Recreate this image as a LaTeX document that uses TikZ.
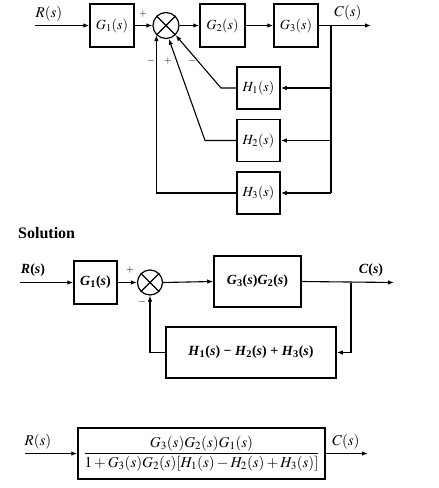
\documentclass[tikz,border=0pt]{standalone}
\usepackage{mathptmx}
\usepackage{fontspec}
\setmainfont{Liberation Serif}
\usetikzlibrary{arrows.meta,calc}
\newcommand{\bvar}[2]{\textit{#1}\textsubscript{#2}(\textit{s})}
\begin{document}
\begin{tikzpicture}[x=1pt,y=-1pt,
  blk/.style={draw,line width=1.5pt,inner sep=0pt,font=\fontsize{14}{16}\selectfont},
  sumc/.style={draw,line width=1.2pt,circle,minimum size=#1,inner sep=0pt},
  ln/.style={line width=1.1pt},
  arr/.style={ln,-{Latex[length=6pt,width=4.5pt]}},
  lbl/.style={font=\fontsize{15}{17}\selectfont,inner sep=0pt},
  bl/.style={font=\fontsize{14}{16}\selectfont\bfseries},
  sgn/.style={font=\fontsize{10}{12}\selectfont,inner sep=0pt}]
\useasboundingbox (0,0) rectangle (439,488);
% ---------- top diagram ----------
\node[lbl] (R1) at (49,14) {$R(s)$};
\coordinate (in1) at (35,25.5);
\node[blk,minimum width=44pt,minimum height=43pt] (G1) at (112,25.5) {$G_1(s)$};
\node[sumc=26pt] (S1) at (166,25.5) {};
\draw[ln] (S1.north west) -- (S1.south east) (S1.north east) -- (S1.south west);
\node[blk,minimum width=45pt,minimum height=43pt] (G2) at (222.5,25.5) {$G_2(s)$};
\node[blk,minimum width=44pt,minimum height=43pt] (G3) at (296,25.5) {$G_3(s)$};
\node[lbl] (C1) at (348,13) {$C(s)$};
\coordinate (out1) at (371,25.5);
\coordinate (b1) at (331,25.5);
\node[blk,minimum width=43pt,minimum height=42pt] (H1) at (258.5,88) {$H_1(s)$};
\node[blk,minimum width=43pt,minimum height=42pt] (H2) at (258.5,140.5) {$H_2(s)$};
\node[blk,minimum width=43pt,minimum height=42pt] (H3) at (258.5,193) {$H_3(s)$};
\draw[arr] (in1) -- (G1.west);
\draw[arr] (G1.east) -- (S1.west);
\draw[arr] (S1.east) -- (G2.west);
\draw[arr] (G2.east) -- (G3.west);
\draw[arr] (G3.east) -- (out1);
\coordinate (b1e) at (331,193);
\draw[ln] (b1) -- (b1e);
\draw[arr] (b1 |- H1.east) -- (H1.east);
\draw[arr] (b1 |- H2.east) -- (H2.east);
\draw[arr] (b1e) -- (H3.east);
\coordinate (k1) at (221,88);
\coordinate (k2) at (205,140.5);
\draw[arr] (H1.west) -- (k1) -- (S1.-45);
\draw[arr] (H2.west) -- (k2) -- (S1.-78);
\coordinate (k3) at (S1.225 |- H3.west);
\draw[arr] (H3.west) -- (k3) -- (S1.225);
\node[sgn] (p0) at (143,14) {$+$};
\node[sgn] (m1) at (151,61) {$-$};
\node[sgn] (p2) at (168,61) {$+$};
\node[sgn] (m3) at (192,61) {$-$};
% ---------- Solution ----------
\node[font=\fontsize{16}{18}\selectfont\bfseries,anchor=west,inner sep=0pt] (sol) at (18,233) {Solution};
% ---------- middle diagram ----------
\node[lbl,bl] (R2) at (33,270) {\textit{R}(\textit{s})};
\coordinate (in2) at (20,282.5);
\node[blk,bl,minimum width=43pt,minimum height=43pt] (G1m) at (95.5,282.5) {\bvar{G}{1}};
\node[sumc=25pt] (S2) at (150,282.5) {};
\draw[ln] (S2.north west) -- (S2.south east) (S2.north east) -- (S2.south west);
\node[blk,bl,minimum width=87pt,minimum height=51pt] (G32) at (257.5,281.5) {\bvar{G}{3}\bvar{G}{2}};
\node[lbl,bl] (C2) at (371,270) {\textit{C}(\textit{s})};
\coordinate (out2) at (394,282.5);
\coordinate (b2) at (351,282.5);
\node[blk,bl,minimum width=170pt,minimum height=51pt] (Hm) at (251,352.5) {\bvar{H}{1} − \bvar{H}{2} + \bvar{H}{3}};
\draw[arr] (in2) -- (G1m.west);
\draw[arr] (G1m.east) -- (S2.west);
\draw[arr] (S2.east) -- (G32.west);
\draw[arr] (G32.east) -- (out2);
\coordinate (b2e) at (b2 |- Hm.east);
\draw[ln] (b2) -- (b2e);
\draw[arr] (b2e) -- (Hm.east);
\coordinate (k4) at (S2.south |- Hm.west);
\draw[arr] (Hm.west) -- (k4) -- (S2.south);
\node[sgn] (p4) at (130,270) {$+$};
\node[sgn] (m4) at (142,302) {$-$};
% ---------- bottom diagram ----------
\node[lbl] (R3) at (38,442) {$R(s)$};
\coordinate (in3) at (25,453.5);
\node[blk,minimum width=247pt,minimum height=51pt,font=\fontsize{15}{17}\selectfont] (T) at (201.5,453.5)
  {$\displaystyle\frac{G_3(s)G_2(s)G_1(s)}{1+G_3(s)G_2(s)[H_1(s)-H_2(s)+H_3(s)]}$};
\node[lbl] (C3) at (346,442) {$C(s)$};
\coordinate (out3) at (368,453.5);
\draw[arr] (in3) -- (T.west);
\draw[arr] (T.east) -- (out3);
\end{tikzpicture}
\end{document}
